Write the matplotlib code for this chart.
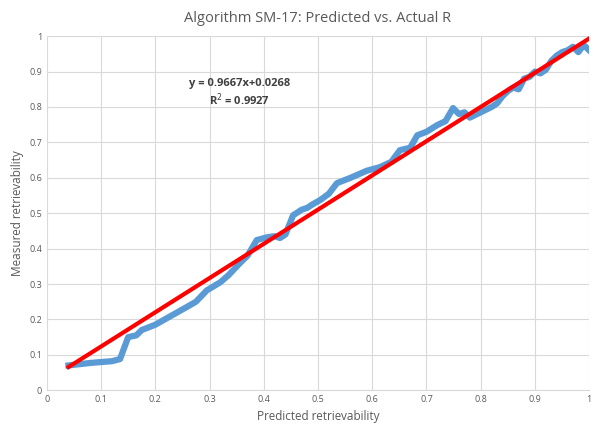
import matplotlib.pyplot as plt
import numpy as np

pred = [0.04, 0.08, 0.12, 0.135, 0.15, 0.165, 0.175, 0.2, 0.258, 0.275, 0.295, 0.32,
        0.335, 0.356, 0.37, 0.387, 0.406, 0.42, 0.43, 0.44, 0.454, 0.47, 0.48, 0.49,
        0.504, 0.52, 0.535, 0.56, 0.59, 0.614, 0.635, 0.651, 0.67, 0.683, 0.70, 0.72,
        0.735, 0.749, 0.76, 0.77, 0.78, 0.80, 0.82, 0.83, 0.84, 0.85, 0.86,
        0.87, 0.88, 0.89, 0.90, 0.91, 0.92, 0.93, 0.94, 0.95, 0.96, 0.97, 0.98,
        0.99, 1.0]
measured = [0.07, 0.077, 0.082, 0.088, 0.15, 0.155, 0.17, 0.185, 0.235, 0.25, 0.282, 0.305,
            0.325, 0.359, 0.38, 0.424, 0.432, 0.435, 0.43, 0.44, 0.494, 0.51, 0.515, 0.525,
            0.537, 0.555, 0.585, 0.60, 0.62, 0.63, 0.645, 0.678, 0.685, 0.72, 0.73, 0.749,
            0.76, 0.797, 0.78, 0.785, 0.77, 0.785, 0.80, 0.81, 0.83, 0.845, 0.855,
            0.85, 0.88, 0.885, 0.9, 0.895, 0.905, 0.93, 0.945, 0.955, 0.96, 0.97, 0.955,
            0.975, 0.96]
slope, intercept = 0.9667, 0.0268

plt.rcParams['font.family'] = 'Open Sans'
fig, ax = plt.subplots(figsize=(6, 4.36), dpi=100)
fig.subplots_adjust(left=0.078, right=0.982, top=0.917, bottom=0.105)

ax.plot(pred, measured, color='#5b9bd5', lw=4.5, solid_joinstyle='round')
tx = np.array([pred[0], pred[-1]])
ax.plot(tx, slope * tx + intercept, color='#ff0000', lw=3)

ax.set_xlim(0, 1)
ax.set_ylim(0, 1)
ticks = np.arange(0, 1.01, 0.1)
labels = ['0', '0.1', '0.2', '0.3', '0.4', '0.5', '0.6', '0.7', '0.8', '0.9', '1']
ax.set_xticks(ticks, labels)
ax.set_yticks(ticks, labels)
ax.tick_params(length=0, labelsize=6.5, colors='#595959')
ax.grid(color='#d9d9d9', lw=0.8)
ax.set_axisbelow(True)
for s in ax.spines.values():
    s.set_visible(False)
ax.spines['bottom'].set_visible(True)
ax.spines['bottom'].set_color('#d9d9d9')

ax.set_title('Algorithm SM-17: Predicted vs. Actual R', fontsize=10.5, color='#595959', pad=10)
ax.set_xlabel('Predicted retrievability', fontsize=8.5, color='#595959')
ax.set_ylabel('Measured retrievability', fontsize=8.5, color='#595959')
ax.text(0.355, 0.84, 'y = 0.9667x+0.0268\nR$^2$ = 0.9927', fontsize=8, fontweight='bold',
        color='#404040', ha='center', va='center', linespacing=1.2)

fig.savefig('out.png')
